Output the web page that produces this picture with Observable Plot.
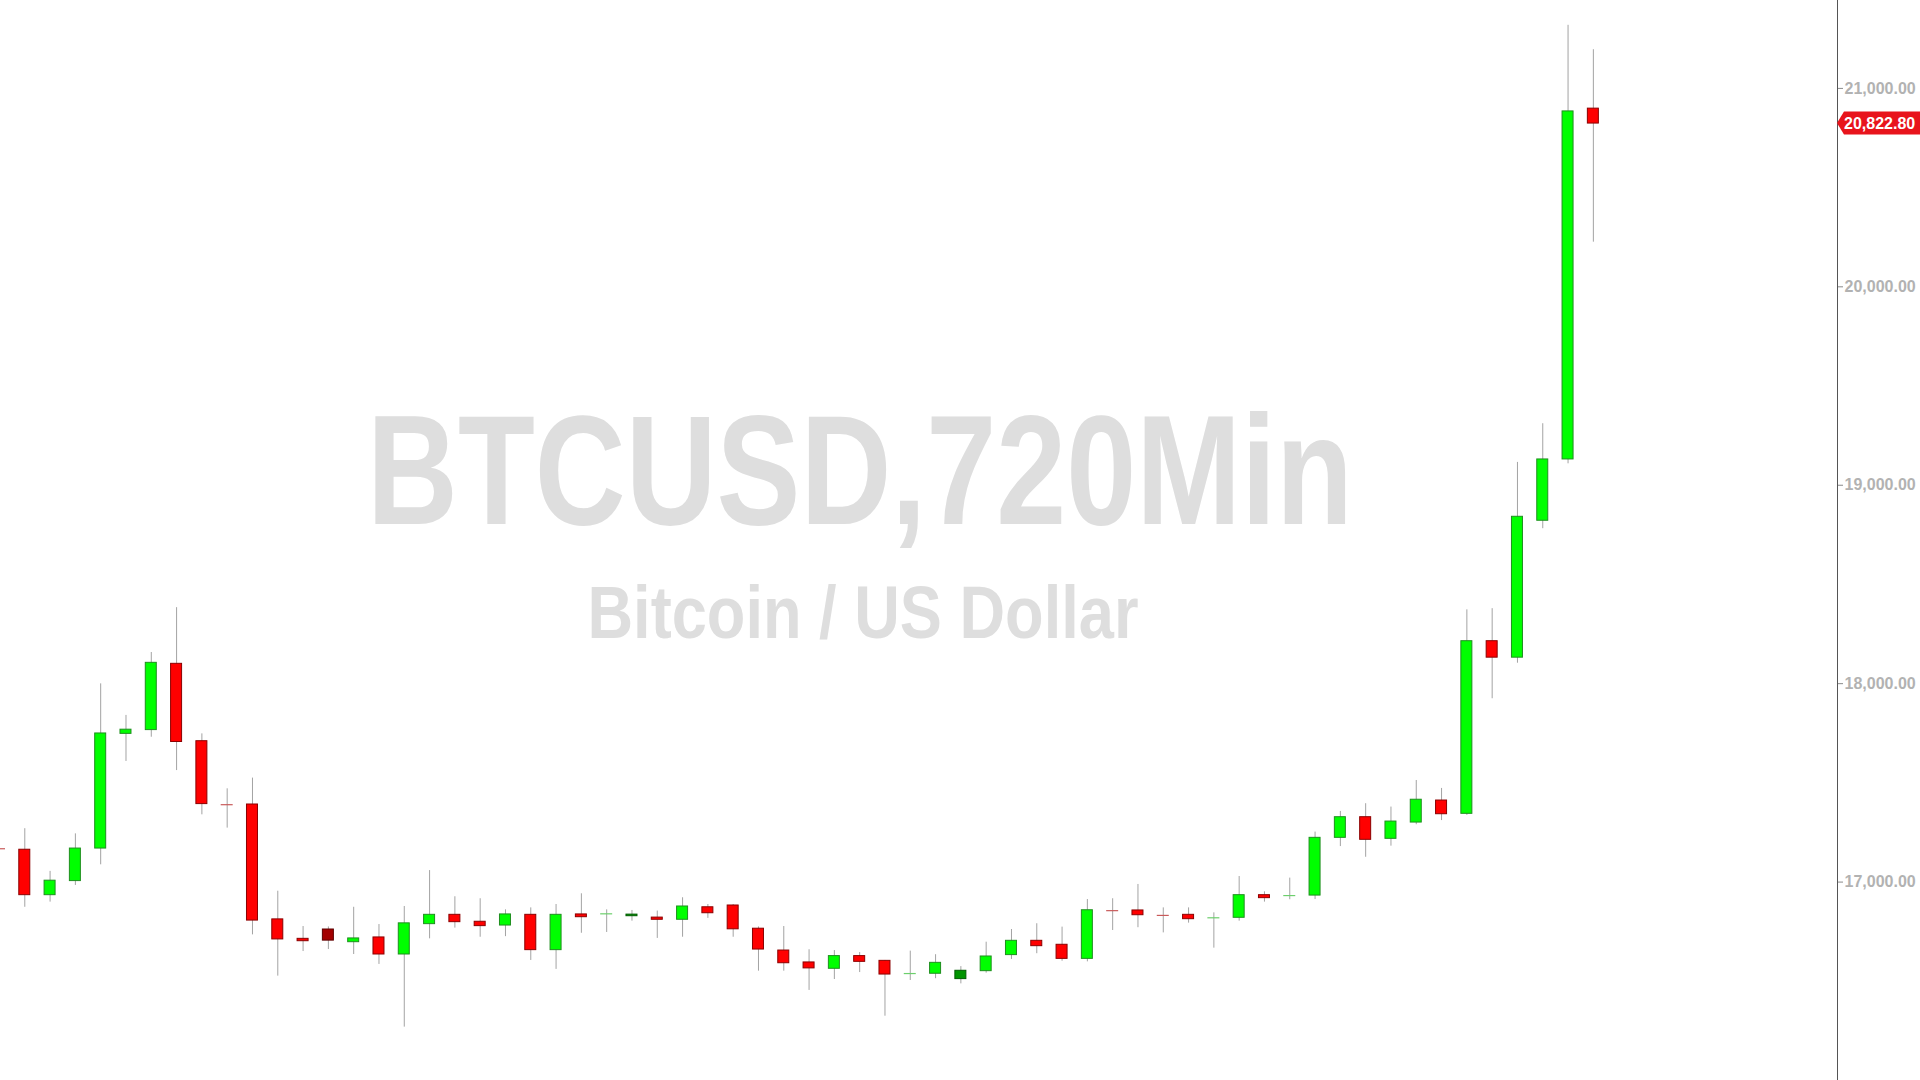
<!DOCTYPE html>
<html><head><meta charset="utf-8">
<script src="https://cdn.jsdelivr.net/npm/d3@7"></script>
<script src="https://cdn.jsdelivr.net/npm/@observablehq/plot@0.6"></script>
<style>html,body{margin:0;padding:0;background:#fff;overflow:hidden}#chart{width:1920px;height:1080px;position:relative}</style>
</head><body><div id="chart"></div>
<script>
// OHLC values (12h candles, BTCUSD)
const opens  = [17168,17163,16934,17005,17169,17747,17766,18100,17710,17390,17391,16812,16714,16761,16697,16721,16635,16788,16835,16800,16781,16835,16657,16837,16840,16828,16821,16810,16873,16882,16765,16655,16595,16563,16627,16603,16539,16538,16511,16551,16632,16704,16684,16613,16856,16857,16832,16835,16820,16820,16934,16932,16932,17223,17327,17218,17300,17411,17344,18214,18131,18821,19130,20898];
const highs  = [17185,17269,17054,17243,17999,17840,18157,18383,17747,17470,17524,16954,16776,16774,16873,16786,16877,17058,16926,16916,16860,16870,16887,16941,16860,16857,16854,16921,16887,16887,16774,16776,16659,16655,16645,16605,16652,16634,16574,16697,16761,16790,16773,16912,16916,16988,16870,16870,16845,17028,16951,17020,17252,17356,17395,17378,17512,17472,18372,18378,19115,19310,21318,21195];
const lows   = [17150,16873,16899,16983,17087,17608,17730,17562,17339,17272,16734,16526,16650,16660,16635,16585,16269,16714,16768,16722,16725,16605,16560,16742,16746,16803,16716,16722,16817,16722,16551,16551,16454,16509,16544,16324,16504,16513,16487,16541,16610,16639,16601,16598,16756,16770,16744,16793,16667,16803,16899,16911,16912,17179,17125,17181,17289,17310,17336,17924,18103,18781,19108,20225];
const closes = [17168,16934,17007,17169,17749,17768,18105,17706,17393,17390,16806,16711,16702,16705,16716,16635,16792,16835,16798,16778,16837,16657,16835,16823,16840,16836,16810,16877,16843,16762,16660,16591,16565,16627,16598,16534,16539,16593,16553,16625,16704,16677,16613,16858,16856,16833,16832,16813,16820,16934,16919,16932,17223,17327,17213,17305,17415,17342,18214,18131,18841,19130,20884,20822.8];
const yTicks = [17000, 18000, 19000, 20000, 21000];
const symbolTitle = "BTCUSD,720Min";
const symbolName = "Bitcoin / US Dollar";

const candles = opens.map((o, i) => ({
  i, open: o, high: highs[i], low: lows[i], close: closes[i],
  prev: i > 0 ? closes[i - 1] : null
}));
function kindOf(d) {
  if (d.open === d.close) return (d.prev !== null && d.close > d.prev) ? "dojiUp" : "dojiDown";
  const up = d.close > d.open;
  const strong = d.prev === null ? true : ((d.close > d.prev) === up);
  return (up ? "up" : "down") + (strong ? "" : "Weak");
}
candles.forEach(d => d.kind = kindOf(d));
const fillOf = {up: "#00ff00", upWeak: "#009400", down: "#ff0000", downWeak: "#a30000"};
const strokeOf = {up: "#1f8f1f", upWeak: "#005c00", down: "#8b0000", downWeak: "#5e0000", dojiUp: "#6ccf6c", dojiDown: "#c85a5a"};
const bodies = candles.filter(d => d.open !== d.close);
const dojis = candles.filter(d => d.open === d.close);

const W = 1920, H = 1080, mr = 83;
const xDomain = [0.04, 72.65];
const pxPerUnit = (W - mr) / (xDomain[1] - xDomain[0]);
const hw = 5.5 / pxPerUnit, dw = 6 / pxPerUnit;

const plot = Plot.plot({
  width: W, height: H,
  marginLeft: 0, marginRight: mr, marginTop: 0, marginBottom: 0,
  style: {fontFamily: "'Liberation Sans', Arial, sans-serif", background: "transparent"},
  x: {type: "linear", domain: xDomain, axis: null},
  y: {type: "linear", domain: [16000, 21443], axis: null},
  color: {type: "identity"},
  marks: [
    Plot.ruleX(candles, {x: "i", y1: "low", y2: "high", stroke: "#a3a3a3", strokeWidth: 1}),
    Plot.rect(bodies, {x1: d => d.i - hw, x2: d => d.i + hw, y1: "open", y2: "close",
      fill: d => fillOf[d.kind], stroke: d => strokeOf[d.kind], strokeWidth: 1}),
    Plot.ruleY(dojis, {y: "close", x1: d => d.i - dw, x2: d => d.i + dw,
      stroke: d => strokeOf[d.kind], strokeWidth: 1.2}),
    Plot.ruleX([xDomain[1]], {stroke: "#555", strokeWidth: 1}),
    Plot.axisY({ticks: yTicks, anchor: "right", tickSize: 5, tickPadding: 2,
      tickFormat: d3.format(",.2f"), stroke: "#8a8a8a", fill: "#b2b2b2", fontSize: 16,
      fontWeight: "bold", label: null})
  ]
});

const svg = d3.select(plot);
// watermark behind the candles
const wm = svg.insert("g", "g")
  .attr("fill", "#dedede")
  .attr("font-family", "'Liberation Sans Narrow','Liberation Sans',Arial,sans-serif")
  .attr("font-weight", "bold")
  .attr("text-anchor", "middle");
wm.append("text").attr("x", 860).attr("y", 524).attr("font-size", 156)
  .attr("textLength", 986).attr("lengthAdjust", "spacingAndGlyphs").text(symbolTitle);
wm.append("text").attr("x", 863).attr("y", 638).attr("font-size", 74)
  .attr("textLength", 551).attr("lengthAdjust", "spacingAndGlyphs").text(symbolName);

// last price flag
const yS = plot.scale("y");
const last = closes[closes.length - 1];
const yl = yS.apply(last);
const x0 = W - mr;
svg.append("path")
  .attr("d", `M${x0},${yl} L${x0 + 7},${yl - 11.5} H${W} V${yl + 11.5} H${x0 + 7} Z`)
  .attr("fill", "#e8141c");
svg.append("text").attr("x", x0 + 7).attr("y", yl).attr("dy", "0.36em")
  .attr("text-anchor", "start")
  .attr("fill", "#ffffff").attr("font-weight", "bold").attr("font-size", 16)
  .attr("font-family", "'Liberation Sans', Arial, sans-serif")
  .text(d3.format(",.2f")(last));

document.getElementById("chart").appendChild(plot);
</script>
</body></html>
